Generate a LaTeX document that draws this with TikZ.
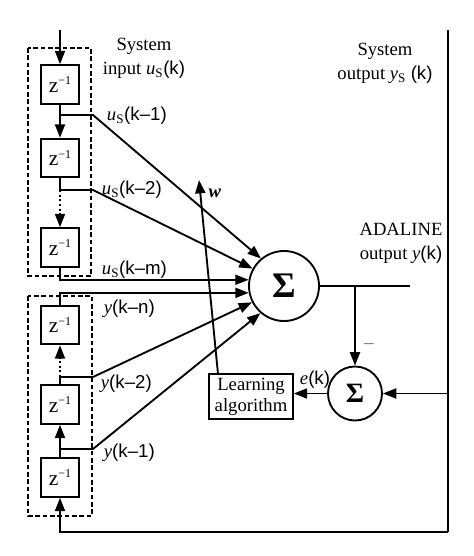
\documentclass[tikz,border=0pt]{standalone}
\usepackage{fontspec}
\setmainfont{Liberation Serif}
\setsansfont{Liberation Sans}
\usetikzlibrary{arrows.meta}
\newcommand{\kk}[1]{\textsf{(#1)}}
\newcommand{\zinv}{z\raisebox{0.8ex}{\fontsize{9}{9}\selectfont −1}}
\begin{document}
\begin{tikzpicture}[x=0.75pt,y=-0.75pt, line width=1.4pt,
  tri/.style={-{Triangle[length=10pt,width=7.5pt]}},
  zbox/.style={draw, minimum width=29pt, minimum height=29pt, inner sep=0pt, font=\fontsize{16}{16}\selectfont},
  sumbig/.style={draw, circle, minimum size=52.5pt, inner sep=0pt, font=\fontsize{27}{27}\selectfont\bfseries},
  sumsmall/.style={draw, circle, minimum size=40.5pt, inner sep=0pt, font=\fontsize{21}{21}\selectfont\bfseries},
  lbl/.style={anchor=west, inner sep=0pt, font=\fontsize{14}{14}\selectfont},
  txt/.style={inner sep=0pt, align=center, font=\fontsize{14}{18}\selectfont},
  dashbox/.style={line width=1.1pt, dash pattern=on 3.5pt off 2pt}]
\useasboundingbox (0,0) rectangle (474,556);
% dashed groups
\draw[dashbox] (28,48) rectangle (91,276);
\draw[dashbox] (28,296) rectangle (92,516);
% delay boxes
\node[zbox] (z1) at (60,84.5) {\zinv};
\node[zbox] (z2) at (60,158) {\zinv};
\node[zbox] (z3) at (60,247.5) {\zinv};
\node[zbox] (yn) at (60,325) {\zinv};
\node[zbox] (ym) at (60,404.5) {\zinv};
\node[zbox] (y1) at (60,477.5) {\zinv};
% sums
\node[sumbig] (sig) at (284,286) {Σ};
\node[sumsmall] (sig2) at (355,393.5) {Σ};
\node[draw, line width=1.2pt, minimum width=63pt, minimum height=34pt, inner sep=0pt, align=center, font=\fontsize{14}{15.5}\selectfont] (learn) at (251,396.5) {Learning\\algorithm};
% coordinates
\coordinate (in) at (60,30);
\coordinate (b1) at (60,115);
\coordinate (b2) at (60,190);
\coordinate (d1) at (60,214);
\coordinate (b3) at (60,377);
\coordinate (d2) at (60,358);
\coordinate (b4) at (60,449);
\coordinate (rtop) at (448,30);
\coordinate (rbot) at (448,532);
\coordinate (rmid) at (448,393.5);
\coordinate (oend) at (410,286);
\coordinate (tap) at (355,286);
\coordinate (wtip) at (199,180);
\coordinate (wbase) at (218,374);
% upper chain
\draw[tri] (in) -- (z1.north);
\draw[tri] (z1.south) -- (z2.north);
\draw (z2.south) -- (b2);
\draw[dotted, line width=1.5pt] (b2) -- (d1);
\draw[tri] (d1) -- (z3.north);
\draw[tri] (z3.south) |- (sig.170);
% lower chain
\draw[tri] (yn.north) |- (sig.191);
\draw[tri] (d2) -- (yn.south);
\draw[dotted, line width=1.5pt] (b3) -- (d2);
\draw (ym.north) -- (b3);
\draw[tri] (y1.north) -- (ym.south);
% branches
\draw[tri] (b1) -- ++(33,0) -- (sig.130);
\draw[tri] (b2) -- ++(33,0) -- (sig.151);
\draw[tri] (b3) -- ++(33,0) -- (sig.207);
\draw[tri] (b4) -- ++(33,0) -- (sig.229);
% right side
\draw (rtop) -- (rbot);
\draw[tri] (rbot) -| (y1.south);
\draw[tri] (rmid) -- (sig2.east);
\draw (sig.east) -- (oend);
\draw[tri] (tap) -- (sig2.north);
\draw[tri] (sig2.west) -- (sig2.west -| learn.east);
\draw[tri] (wbase) -- (wtip);
% labels
\node[txt] (sysin) at (144,58) {System\\input \textit{u}\textsubscript{S}\kk{k}};
\node[txt] (sysout) at (385,63) {System\\output \textit{y}\textsubscript{S} \kk{k}};
\node[txt] (adal) at (401,243) {ADALINE\\output \textit{y}\kk{k}};
\node[lbl] (l1) at (106,116) {\textit{u}\textsubscript{S}\kk{k–1}};
\node[lbl] (l2) at (101,190) {\textit{u}\textsubscript{S}\kk{k–2}};
\node[lbl] (l3) at (101,270) {\textit{u}\textsubscript{S}\kk{k–m}};
\node[lbl] (l4) at (103,309) {\textit{y}\kk{k–n}};
\node[lbl] (l5) at (100,384) {\textit{y}\kk{k–2}};
\node[lbl] (l6) at (103,453) {\textit{y}\kk{k–1}};
\node[txt] (wl) at (215,193) {\textbf{\textit{w}}};
\node[txt, text=black!60] (minus) at (369,346) {–};
\node[txt] (el) at (315,380) {\textit{e}\kk{k}};
\end{tikzpicture}
\end{document}
